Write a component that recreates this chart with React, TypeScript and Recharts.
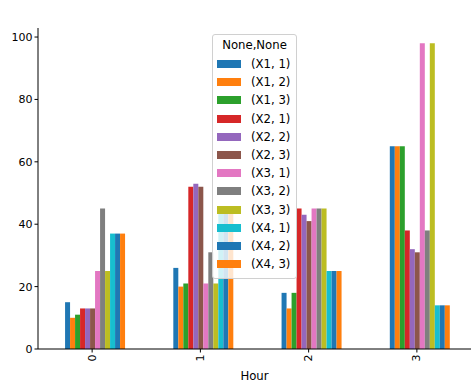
import { Bar, BarChart, XAxis, YAxis } from 'recharts';

const hours = ['0', '1', '2', '3'];

const seriesNames = [
  '(X1, 1)', '(X1, 2)', '(X1, 3)',
  '(X2, 1)', '(X2, 2)', '(X2, 3)',
  '(X3, 1)', '(X3, 2)', '(X3, 3)',
  '(X4, 1)', '(X4, 2)', '(X4, 3)',
];

// one array per series, indexed by hour
const x1_1 = [15, 26, 18, 65];
const x1_2 = [10, 20, 13, 65];
const x1_3 = [11, 21, 18, 65];
const x2_1 = [13, 52, 45, 38];
const x2_2 = [13, 53, 43, 32];
const x2_3 = [13, 52, 41, 31];
const x3_1 = [25, 21, 45, 98];
const x3_2 = [45, 31, 45, 38];
const x3_3 = [25, 21, 45, 98];
const x4_1 = [37, 44, 25, 14];
const x4_2 = [37, 44, 25, 14];
const x4_3 = [37, 44, 25, 14];

const seriesValues = [x1_1, x1_2, x1_3, x2_1, x2_2, x2_3, x3_1, x3_2, x3_3, x4_1, x4_2, x4_3];

const yTicks = [0, 20, 40, 60, 80, 100];

const COLORS = [
  '#1f77b4', '#ff7f0e', '#2ca02c', '#d62728', '#9467bd', '#8c564b',
  '#e377c2', '#7f7f7f', '#bcbd22', '#17becf', '#1f77b4', '#ff7f0e',
];

const FONT = '"DejaVu Sans", sans-serif';

const data = hours.map((hour, i) => {
  const row: Record<string, string | number> = { hour };
  seriesNames.forEach((name, s) => {
    row[name] = seriesValues[s][i];
  });
  return row;
});

const RotatedTick = (props: any) => {
  const { x, y, payload } = props;
  return (
    <text
      x={x}
      y={y}
      transform={`rotate(-90, ${x}, ${y})`}
      textAnchor="end"
      dominantBaseline="central"
      fontSize={11}
      fontFamily={FONT}
      fill="#000"
    >
      {payload.value}
    </text>
  );
};

// matplotlib-style legend box, laid over the plot
const LegendBox = () => (
  <div
    style={{
      position: 'absolute',
      left: 212,
      top: 34,
      width: 85,
      background: 'rgba(255,255,255,0.8)',
      border: '1px solid #d0d0d0',
      borderRadius: 3,
      padding: '1px 0 5px 0',
      fontFamily: FONT,
      fontSize: 11.7,
      color: '#000',
      boxSizing: 'border-box',
      whiteSpace: 'nowrap',
    }}
  >
    <div style={{ textAlign: 'center', height: 19, lineHeight: '19px' }}>None,None</div>
    {seriesNames.map((name, i) => (
      <div key={name} style={{ display: 'flex', alignItems: 'center', height: 18.2 }}>
        <span
          style={{
            display: 'inline-block',
            width: 24,
            height: 8,
            marginLeft: 4,
            marginRight: 10,
            background: COLORS[i],
          }}
        />
        <span>{name}</span>
      </div>
    ))}
  </div>
);

export default function App() {
  return (
    <div style={{ position: 'absolute', left: 0, top: 0, width: 474, height: 386, background: '#fff' }}>
      <BarChart
        width={474}
        height={386}
        data={data}
        margin={{ top: 28, right: 3, bottom: 0, left: 0 }}
        barCategoryGap="25%"
        barGap={0}
      >
        <XAxis
          dataKey="hour"
          height={37}
          tick={<RotatedTick />}
          tickLine={{ stroke: '#000' }}
          tickSize={3.5}
          axisLine={{ stroke: '#000' }}
          label={{ value: 'Hour', position: 'insideBottom', offset: 6, fontSize: 11.7, fontFamily: FONT, fill: '#000' }}
        />
        <XAxis xAxisId="top" orientation="top" dataKey="hour" height={0} tick={false} tickLine={false} axisLine={{ stroke: '#000' }} />
        <YAxis
          width={38}
          domain={[0, 102.9]}
          ticks={yTicks}
          allowDataOverflow
          tick={{ fontSize: 11, fontFamily: FONT, fill: '#000' }}
          tickLine={{ stroke: '#000' }}
          tickSize={3.5}
          axisLine={{ stroke: '#000' }}
        />
        <YAxis yAxisId="right" orientation="right" width={0} tick={false} tickLine={false} axisLine={{ stroke: '#000' }} />
        {seriesNames.map((name, i) => (
          <Bar key={name} dataKey={name} fill={COLORS[i]} isAnimationActive={false} />
        ))}
      </BarChart>
      <LegendBox />
    </div>
  );
}
